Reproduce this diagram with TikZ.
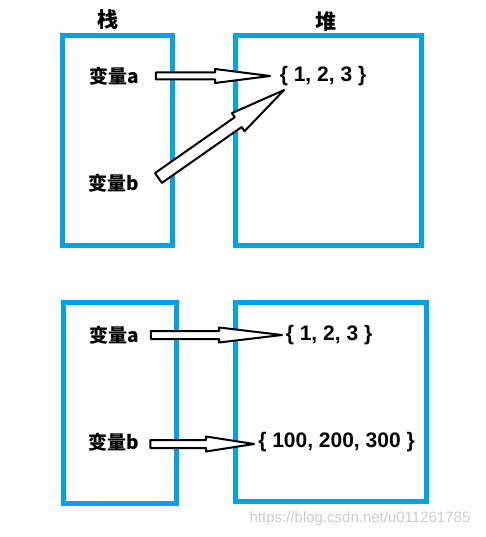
\documentclass[tikz,border=0pt]{standalone}
\usepackage{fontspec}
\setmainfont{DejaVu Sans}
\newfontfamily\cjk{Noto Sans CJK SC}
\newfontfamily\valfont{Liberation Sans}[WordSpace=1.4]
\newfontfamily\markfont{Liberation Sans}
\usetikzlibrary{calc}
\definecolor{boxblue}{RGB}{0,162,232}

\tikzset{
  memory/.style={draw=boxblue,line width=5pt,inner sep=0pt},
  titletext/.style={font=\cjk\bfseries\fontsize{21}{21}\selectfont},
  vartext/.style={font=\cjk\bfseries\fontsize{19}{19}\selectfont,inner sep=0pt},
  valtext/.style={font=\valfont\bfseries\fontsize{21}{21}\selectfont,inner sep=0pt}
}

% hollow block arrow: tail, tip, head length, shaft half width, head half width
\newcommand{\blockarrow}[5]{
  \coordinate (hb) at ($(#2)!#3!(#1)$);
  \draw[line width=2pt,line join=round,fill=white]
    ($(#1)!#4!90:(#2)$) -- ($(hb)!#4!-90:(#1)$) -- ($(hb)!#5!-90:(#1)$)
    -- (#2) -- ($(hb)!#5!90:(#1)$) -- ($(hb)!#4!90:(#1)$)
    -- ($(#1)!#4!-90:(#2)$) -- cycle;
}

\begin{document}
\begin{tikzpicture}[x=1pt,y=-1pt]

    \useasboundingbox (0,0) rectangle (486,537);

    \node[memory,minimum width=110pt,minimum height=209pt] (stack) at (117,140.5) {};
    \node[memory,minimum width=186pt,minimum height=209pt] (heap) at (328,140.5) {};
    \node[titletext] (stacktitle) at (108,20) {栈};
    \node[titletext] (heaptitle) at (326,22) {堆};

    \node[vartext] (varA) at (114,76) {变量a};
    \node[vartext] (varB) at (114,183) {变量b};
    \node[valtext] (setA) at (323,76) {\{ 1, 2, 3 \}};

    \blockarrow{$(varA.east)+(17,0)$}{$(setA.west)+(-9.5,0)$}{55pt}{3.5pt}{7pt}
    \blockarrow{$(varB.east)+(19,-5)$}{$(setA.west)+(4.5,14)$}{56pt}{6pt}{11pt}



    \begin{scope}[yshift=-266pt]

      \node[memory,minimum width=113pt,minimum height=201pt] (stack2) at (119.5,136.5) {};
      \node[memory,minimum width=191pt,minimum height=199pt] (heap2) at (330.5,135.5) {};

      \node[vartext] (varA2) at (114,69) {变量a};
      \node[vartext] (varB2) at (114,176) {变量b};
      \node[valtext] (setA2) at (329,69) {\{ 1, 2, 3 \}};
      \node[valtext] (setB2) at (336.5,176) {\{ 100, 200, 300 \}};

      \blockarrow{$(varA2.east)+(12,0)$}{$(setA2.west)+(-3.5,0)$}{63pt}{4pt}{7.5pt}
      \blockarrow{$(varB2.east)+(11,2)$}{$(setB2.west)+(-4,2)$}{48pt}{4pt}{7.5pt}

    \end{scope}

    \node[font=\markfont\fontsize{15}{15}\selectfont,text=black!20] (mark) at (360,519) {https://blog.csdn.net/u011261785};

\end{tikzpicture}
\end{document}
